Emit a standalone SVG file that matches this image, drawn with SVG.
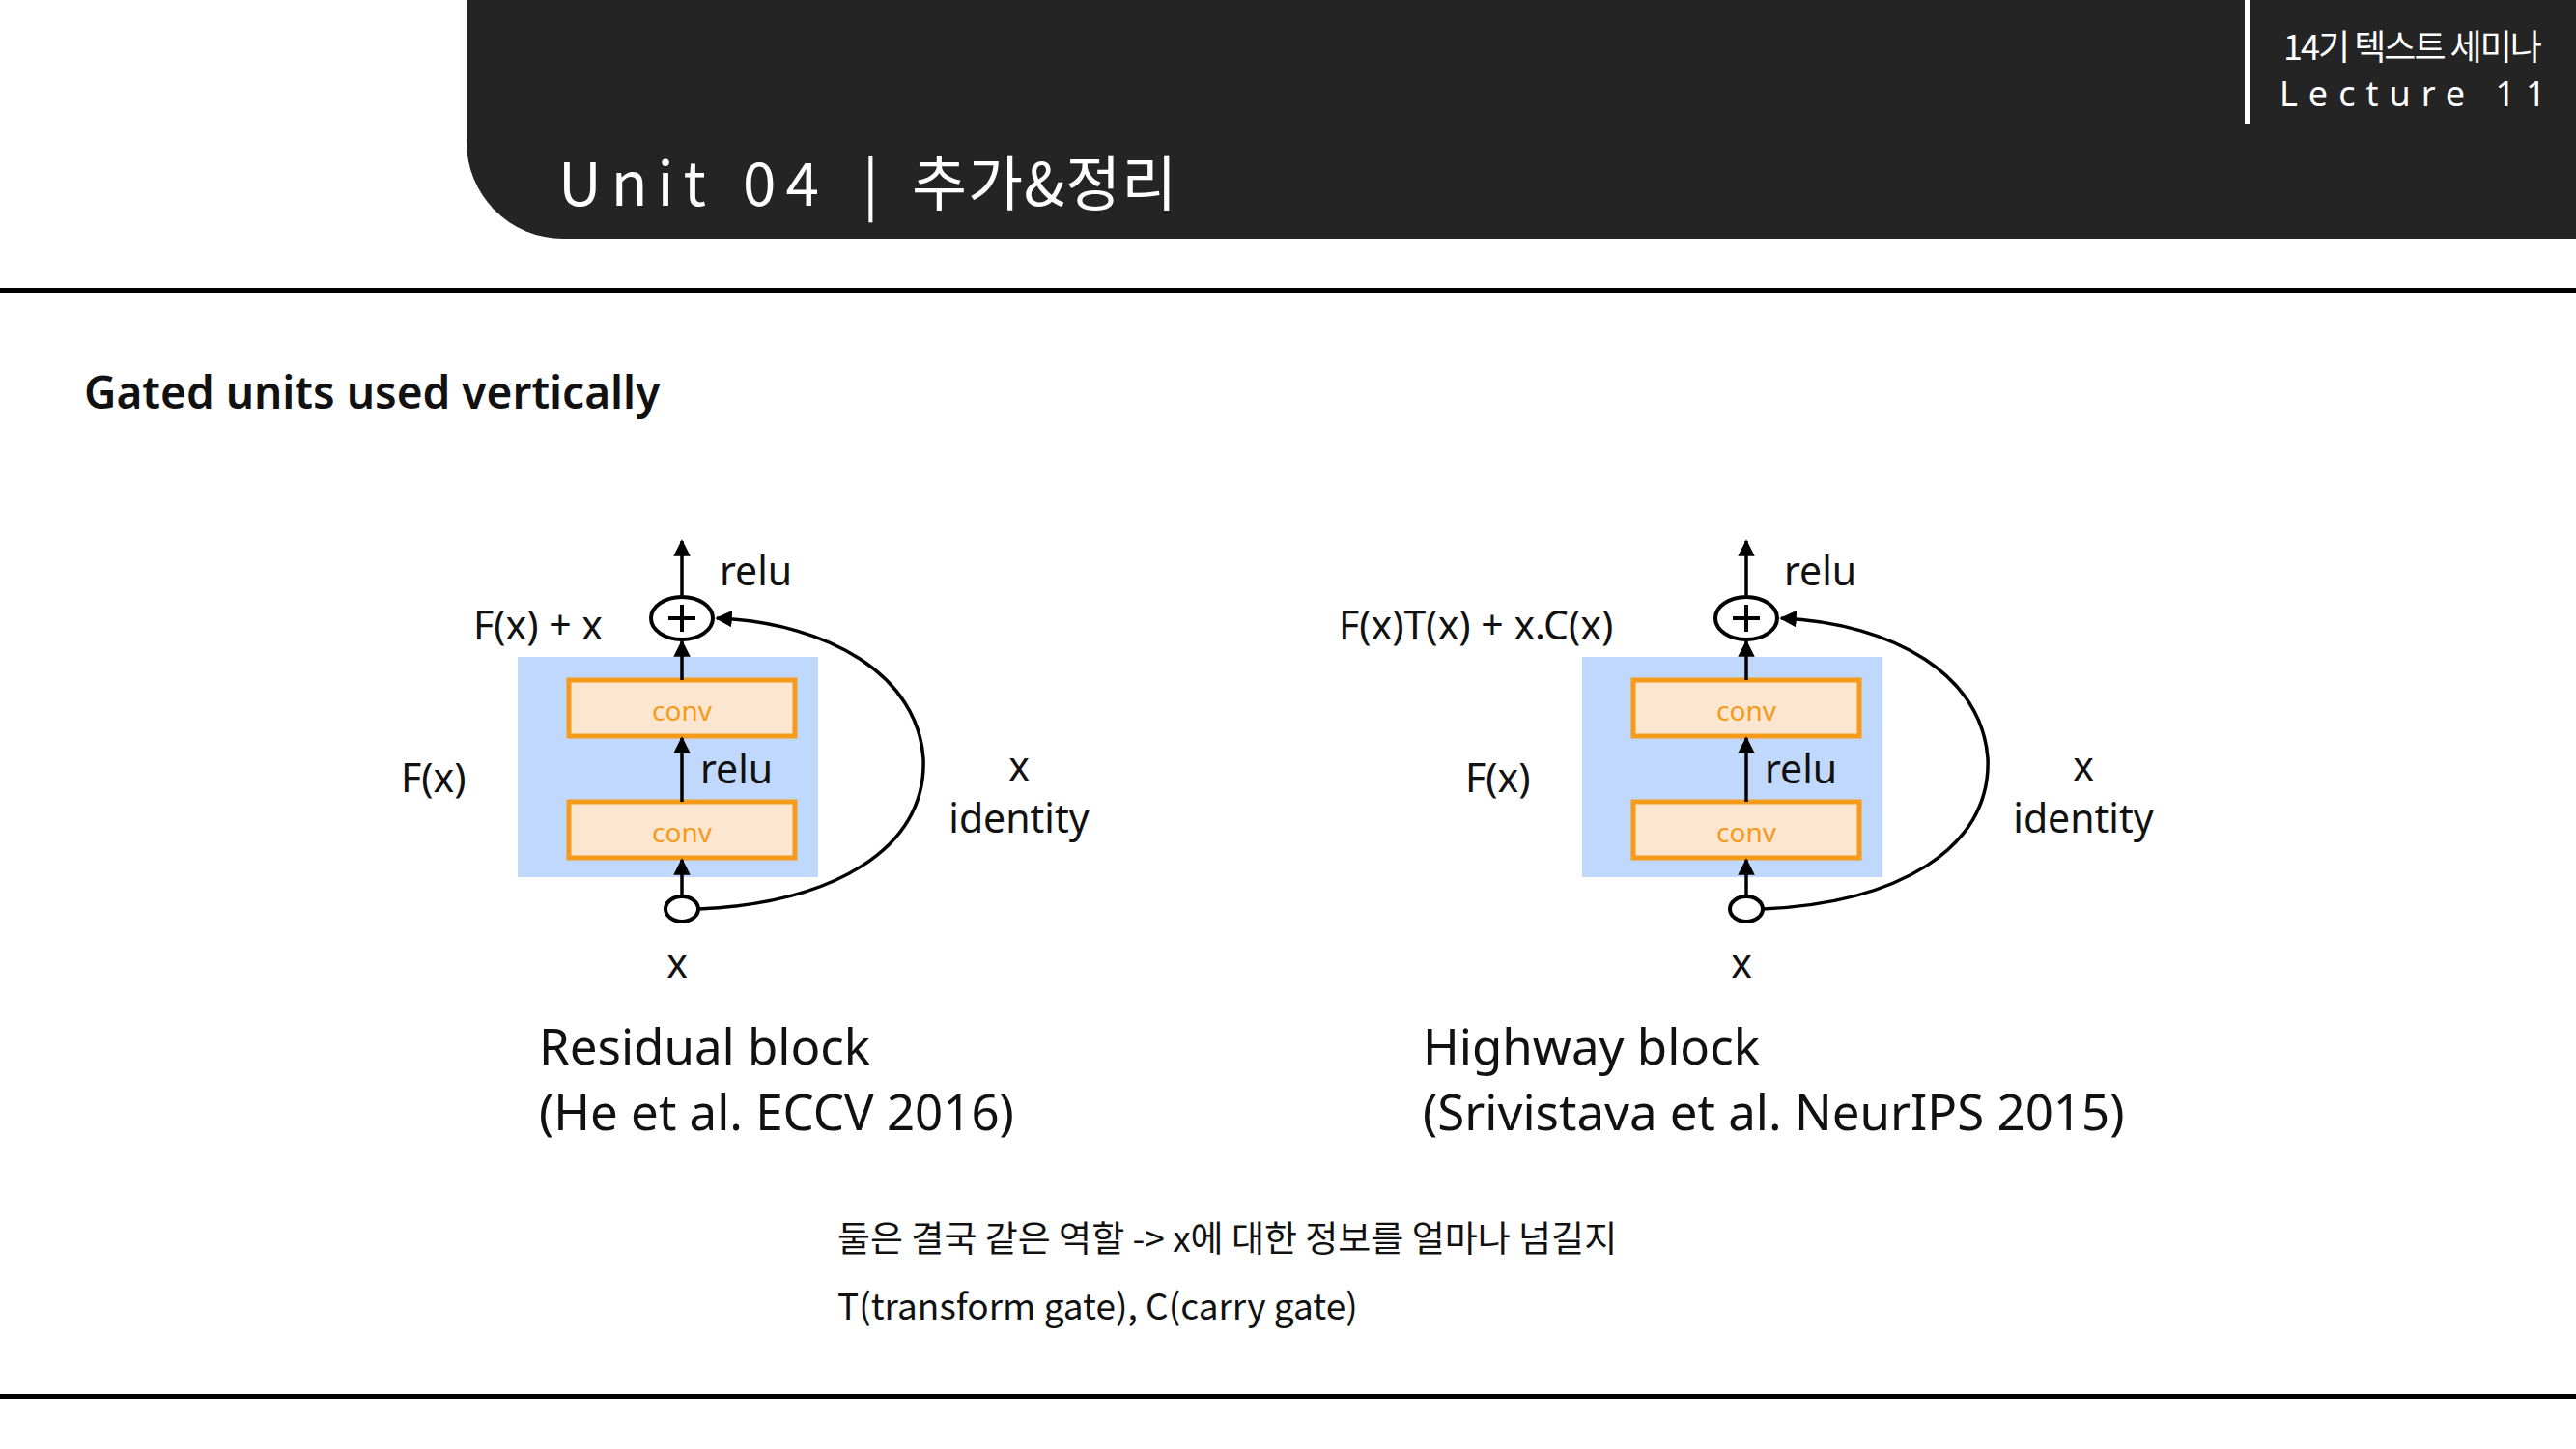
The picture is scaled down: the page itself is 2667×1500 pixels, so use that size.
<svg xmlns="http://www.w3.org/2000/svg" width="2667" height="1500" viewBox="0 0 2667 1500">
<defs>
<style>
text{font-family:"Noto Sans","Noto Sans CJK KR",sans-serif;fill:#111}
.lbl{font-size:41px}
.conv{font-size:28px;fill:#f59a1a;text-anchor:middle}
.cap{font-size:51px}
.kr{font-size:37px;font-family:"Noto Sans CJK KR",sans-serif}
.hd{font-size:62px;fill:#fff;font-family:"Noto Sans CJK KR",sans-serif}
.ln{stroke:#000;stroke-width:3.5;fill:none}
.blue{fill:#bfd8fb}
.cb{fill:#fde6d0;stroke:#f59a1a;stroke-width:5}
.circ{fill:#fff;stroke:#000;stroke-width:4}
</style>
<marker id="ah" viewBox="0 0 10 10" refX="9" refY="5" markerWidth="5" markerHeight="5" orient="auto"><path d="M0,0L10,5L0,10z" fill="#000"/></marker>
</defs>
<rect width="2667" height="1500" fill="#fff"/>
<path d="M483,0H2667V247H583A100,100 0 0 1 483,147Z" fill="#242424"/>
<rect x="2324" y="0" width="6" height="128" fill="#fff"/>
<text x="2364" y="62" style="font-size:36px;fill:#fff;font-family:'Noto Sans CJK KR',sans-serif;letter-spacing:-2px">14기 텍스트 세미나</text>
<text x="2360" y="110" style="font-size:36px;fill:#fff;letter-spacing:11px">Lecture  11</text>
<text class="hd" x="578" y="213" style="letter-spacing:10px">Unit</text>
<text class="hd" x="769" y="213" style="letter-spacing:10px">04</text>
<text class="hd" x="893" y="213">|</text>
<text class="hd" x="944" y="213" style="letter-spacing:1px">추가&amp;정리</text>
<rect x="0" y="298" width="2667" height="5" fill="#000"/>
<rect x="0" y="1443" width="2667" height="5" fill="#000"/>
<text x="87" y="423" style="font-size:46px;font-weight:600">Gated units used vertically</text>

<g id="residual">
<rect class="blue" x="536" y="680" width="311" height="228"/>
<rect class="cb" x="589" y="704" width="234" height="58"/>
<rect class="cb" x="589" y="830" width="234" height="58"/>
<text class="conv" x="706" y="746">conv</text>
<text class="conv" x="706" y="872">conv</text>
<ellipse class="circ" cx="706" cy="640" rx="32" ry="22" style="fill:none"/>
<path d="M706,626V654M692,640H720" stroke="#000" stroke-width="4"/>
<ellipse class="circ" cx="706" cy="941" rx="17" ry="13"/>
<text class="lbl" x="745" y="606">relu</text>
<text class="lbl" x="725" y="811">relu</text>
<text class="lbl" x="490" y="662">F(x) + x</text>
<text class="lbl" x="415" y="820">F(x)</text>
<text class="lbl" x="1055" y="808" text-anchor="middle">x</text>
<text class="lbl" x="1055" y="862" text-anchor="middle">identity</text>
<text class="lbl" x="701" y="1012" text-anchor="middle">x</text>
</g>

<g id="highway">
<rect class="blue" x="1638" y="680" width="311" height="228"/>
<rect class="cb" x="1691" y="704" width="234" height="58"/>
<rect class="cb" x="1691" y="830" width="234" height="58"/>
<text class="conv" x="1808" y="746">conv</text>
<text class="conv" x="1808" y="872">conv</text>
<ellipse class="circ" cx="1808" cy="640" rx="32" ry="22" style="fill:none"/>
<path d="M1808,626V654M1794,640H1822" stroke="#000" stroke-width="4"/>
<ellipse class="circ" cx="1808" cy="941" rx="17" ry="13"/>
<text class="lbl" x="1847" y="606">relu</text>
<text class="lbl" x="1827" y="811">relu</text>
<text class="lbl" x="1386" y="662">F(x)T(x) + x.C(x)</text>
<text class="lbl" x="1517" y="820">F(x)</text>
<text class="lbl" x="2157" y="808" text-anchor="middle">x</text>
<text class="lbl" x="2157" y="862" text-anchor="middle">identity</text>
<text class="lbl" x="1803" y="1012" text-anchor="middle">x</text>
</g>

<g id="connectors">
<path class="ln" d="M706,616V560" marker-end="url(#ah)"/>
<path class="ln" d="M706,704V664" marker-end="url(#ah)"/>
<path class="ln" d="M706,830V764" marker-end="url(#ah)"/>
<path class="ln" d="M706,928V890" marker-end="url(#ah)"/>
<path class="ln" d="M723,941C860,935 960,880 956,785C950,700 860,645 742,640" marker-end="url(#ah)"/>
<path class="ln" d="M1808,616V560" marker-end="url(#ah)"/>
<path class="ln" d="M1808,704V664" marker-end="url(#ah)"/>
<path class="ln" d="M1808,830V764" marker-end="url(#ah)"/>
<path class="ln" d="M1808,928V890" marker-end="url(#ah)"/>
<path class="ln" d="M1825,941C1962,935 2062,880 2058,785C2052,700 1962,645 1844,640" marker-end="url(#ah)"/>
</g>

<text class="cap" x="558" y="1102">Residual block</text>
<text class="cap" x="558" y="1170">(He et al. ECCV 2016)</text>
<text class="cap" x="1473" y="1102">Highway block</text>
<text class="cap" x="1473" y="1170">(Srivistava et al. NeurIPS 2015)</text>
<text class="kr" x="867" y="1296">둘은 결국 같은 역할 -&gt; x에 대한 정보를 얼마나 넘길지</text>
<text class="kr" x="867" y="1366">T(transform gate), C(carry gate)</text>
</svg>
